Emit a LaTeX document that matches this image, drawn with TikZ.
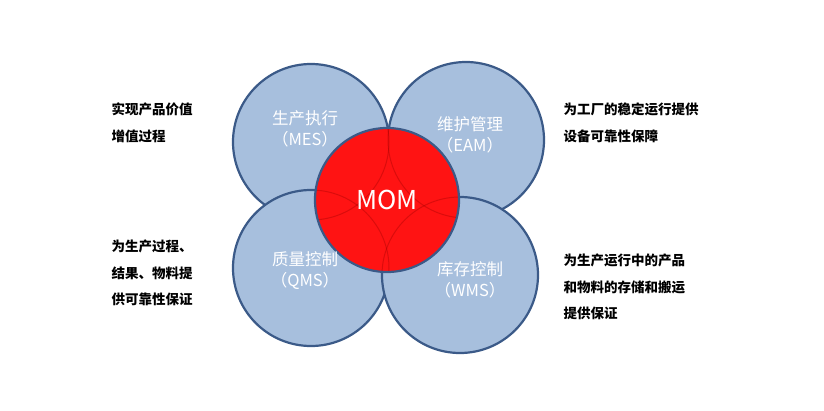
\documentclass[tikz,border=0pt]{standalone}
\usepackage{fontspec}
\setmainfont{Noto Sans CJK SC}
\begin{document}
\begin{tikzpicture}[x=1pt,y=-1pt,
  bc/.style={circle,minimum size=156pt,inner sep=0pt,fill=blueF,draw=blueD,line width=2.2pt},
  lab/.style={text=white,font=\fontsize{16.5}{21}\selectfont,align=center},
  side/.style={anchor=west,font=\fontsize{13.5}{26.5}\selectfont\bfseries,align=left}]
\definecolor{blueF}{HTML}{A7BFDD}\definecolor{blueD}{HTML}{3B5A88}\definecolor{redF}{HTML}{FF1313}
\useasboundingbox[fill=white] (0,0) rectangle (824,410);
\node[bc] (mes) at (311,142) {};
\node[bc] (qms) at (311,268) {};
\node[bc] (eam) at (466,140) {};
\node[bc] (wms) at (460,275) {};
\node[circle,minimum size=144pt,inner sep=0pt,fill=redF,draw=blueD,line width=2.2pt] (mom) at (387,200) {};
\begin{scope}
\clip (387,200) circle (71pt);
\foreach \p in {mes,qms,eam,wms} \draw[red!60!black,opacity=0.35,line width=1pt] (\p.center) circle (78pt);
\end{scope}
\node[text=white,font=\fontsize{26}{30}\selectfont] at (mom) {MOM};
\node[lab] at (305,129) {生产执行\\（MES）};
\node[lab] at (470,135) {维护管理\\（EAM）};
\node[lab] at (305,271) {质量控制\\（QMS）};
\node[lab] at (470,280) {库存控制\\（WMS）};
\node[side] (t1) at (108,123) {实现产品价值\\增值过程};
\node[side] (t2) at (560,123) {为工厂的稳定运行提供\\设备可靠性保障};
\node[side] (t3) at (108,273) {为生产过程、\\结果、物料提\\供可靠性保证};
\node[side] (t4) at (560,287) {为生产运行中的产品\\和物料的存储和搬运\\提供保证};
\end{tikzpicture}
\end{document}
